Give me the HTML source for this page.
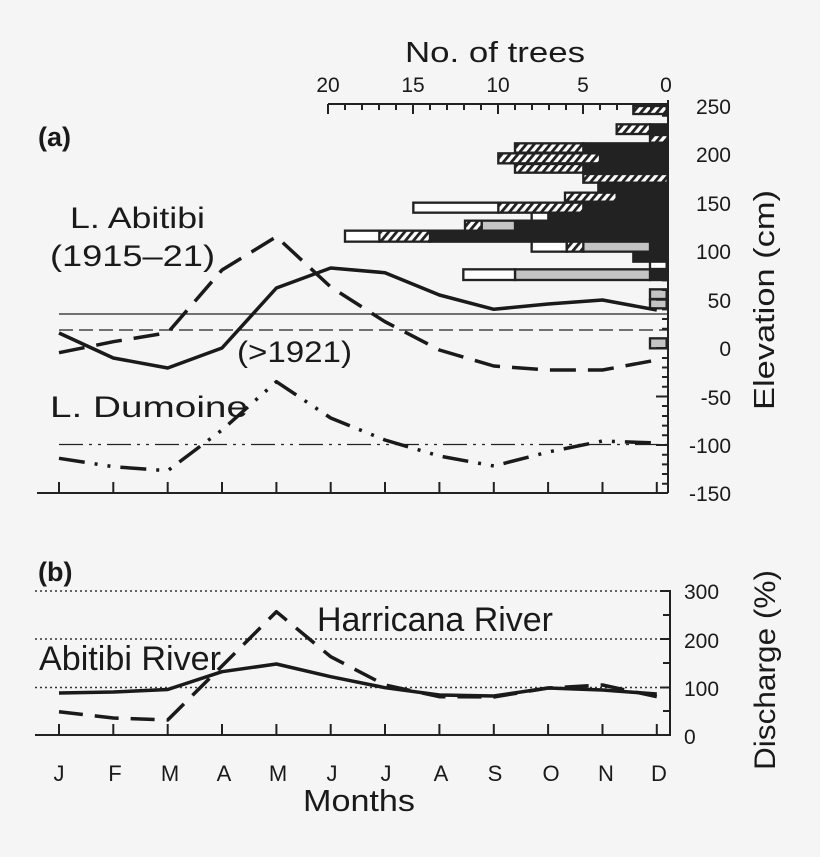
<!DOCTYPE html>
<html><head><meta charset="utf-8"><style>
html,body{margin:0;padding:0;background:#f5f5f5;}
svg{display:block;font-family:"Liberation Sans",Arial,sans-serif;}
</style></head><body>
<svg width="820" height="857" viewBox="0 0 820 857" xmlns="http://www.w3.org/2000/svg">
<defs>
<pattern id="h" patternUnits="userSpaceOnUse" width="24" height="24" patternTransform="skewX(-40)">
<rect width="24" height="24" fill="#fff"/><rect x="0" width="11" height="24" fill="#222"/>
</pattern>
</defs>
<rect width="820" height="857" fill="#f5f5f5"/>
<g transform="translate(330,90) scale(0.33333)" stroke="#222" stroke-width="7">
<rect x="910" y="48" width="100" height="24" fill="url(#h)"/>
<rect x="960" y="103" width="53" height="29" fill="#222"/>
<rect x="860" y="103" width="100" height="29" fill="url(#h)"/>
<rect x="960" y="135" width="53" height="23" fill="url(#h)"/>
<rect x="760" y="160" width="253" height="28" fill="#222"/>
<rect x="555" y="160" width="205" height="28" fill="url(#h)"/>
<rect x="810" y="190" width="203" height="30" fill="#222"/>
<rect x="505" y="190" width="305" height="30" fill="url(#h)"/>
<rect x="760" y="222" width="253" height="26" fill="#222"/>
<rect x="555" y="222" width="205" height="26" fill="url(#h)"/>
<rect x="760" y="252" width="253" height="26" fill="url(#h)"/>
<rect x="805" y="280" width="208" height="25" fill="#222"/>
<rect x="860" y="308" width="153" height="27" fill="#222"/>
<rect x="705" y="308" width="155" height="27" fill="url(#h)"/>
<rect x="760" y="338" width="253" height="30" fill="#222"/>
<rect x="505" y="338" width="255" height="30" fill="url(#h)"/>
<rect x="250" y="338" width="255" height="30" fill="#fff"/>
<rect x="655" y="368" width="358" height="24" fill="#222"/>
<rect x="605" y="368" width="50" height="24" fill="#fff"/>
<rect x="555" y="392" width="458" height="30" fill="#222"/>
<rect x="455" y="392" width="100" height="30" fill="#c4c4c4"/>
<rect x="405" y="392" width="50" height="30" fill="url(#h)"/>
<rect x="300" y="422" width="713" height="33" fill="#222"/>
<rect x="148" y="422" width="152" height="33" fill="url(#h)"/>
<rect x="45" y="422" width="103" height="33" fill="#fff"/>
<rect x="960" y="455" width="53" height="30" fill="#222"/>
<rect x="760" y="455" width="200" height="30" fill="#c4c4c4"/>
<rect x="710" y="455" width="50" height="30" fill="url(#h)"/>
<rect x="605" y="455" width="105" height="30" fill="#fff"/>
<rect x="910" y="485" width="103" height="30" fill="#222"/>
<rect x="960" y="515" width="50" height="22" fill="#fff"/>
<rect x="960" y="538" width="53" height="32" fill="#222"/>
<rect x="555" y="538" width="405" height="32" fill="#c4c4c4"/>
<rect x="400" y="538" width="155" height="32" fill="#fff"/>
<rect x="960" y="598" width="50" height="29" fill="#c4c4c4"/>
<rect x="960" y="628" width="50" height="27" fill="#c4c4c4"/>
<rect x="960" y="745" width="50" height="30" fill="#c4c4c4"/>
</g>
<g stroke="#222" stroke-width="2" fill="none">
<line x1="328" y1="104" x2="668" y2="104"/>
<path d="M328 104v10M345 104v6M362 104v6M379 104v6M396 104v6M413 104v10M430 104v6M447 104v6M464 104v6M481 104v6M498 104v10M515 104v6M532 104v6M549 104v6M566 104v6M583 104v10M600 104v6M617 104v6M634 104v6M651 104v6"/>
<line x1="668" y1="100" x2="668" y2="493"/>
<line x1="37" y1="493" x2="668" y2="493"/>
<path d="M59 493v-11M113.3 493v-11M167.7 493v-11M222 493v-11M276.4 493v-11M330.7 493v-11M385 493v-11M439.4 493v-11M493.8 493v-11M548.1 493v-11M602.5 493v-11M656.8 493v-11"/>
<path d="M668 106h-12M668 115.7h-6M668 125.4h-6M668 135h-6M668 144.8h-6M668 154.5h-12M668 164h-6M668 173.8h-6M668 183.5h-6M668 193.2h-6M668 203h-12M668 212.5h-6M668 222h-6M668 232h-6M668 241.5h-6M668 251.3h-12M668 261h-6M668 270.7h-6M668 280.4h-6M668 290h-6M668 299.7h-12M668 309.4h-6M668 319h-6M668 328.8h-6M668 338.5h-6M668 348h-12M668 358h-6M668 367.5h-6M668 377h-6M668 386.8h-6M668 396.5h-12M668 406h-6M668 416h-6M668 425.6h-6M668 435.3h-6M668 445h-12M668 454.7h-6M668 464.4h-6M668 474h-6M668 483.8h-6"/>
</g>
<line x1="59" y1="314" x2="668" y2="314" stroke="#222" stroke-width="1.2"/>
<line x1="59" y1="330" x2="668" y2="330" stroke="#222" stroke-width="1.2" stroke-dasharray="14,6"/>
<line x1="59" y1="444.5" x2="668" y2="444.5" stroke="#222" stroke-width="1.2" stroke-dasharray="24,6,3,6,3,6"/>
<g fill="none" stroke="#1a1a1a" stroke-width="3.5" stroke-linejoin="round">
<polyline points="59,333 113.3,358 167.7,368 222,348 276.4,288 330.7,268 385,272.7 439.4,295 493.8,309.3 548.1,304 602.5,300 656.8,310"/>
<polyline stroke-dasharray="26,12" points="59,352.7 113.3,341.7 167.7,332.7 222,270 276.4,236.7 330.7,287 385,321.7 439.4,350 493.8,366 548.1,370 602.5,370 656.8,360"/>
<polyline stroke-dasharray="26,10,3,10,3,10" points="59,458.3 113.3,466.7 167.7,470.7 222,430 276.4,381.7 330.7,418 385,440 439.4,456 493.8,466 548.1,452 602.5,441 656.8,443"/>
</g>
<g fill="#1a1a1a">
<text x="405" y="62" font-size="29" textLength="180" lengthAdjust="spacingAndGlyphs">No. of trees</text>
<g font-size="21" text-anchor="middle">
<text x="328" y="92">20</text><text x="413" y="92">15</text><text x="498" y="92">10</text><text x="583" y="92">5</text><text x="666" y="92">0</text>
</g>
<text x="38" y="146" font-weight="bold" font-size="27">(a)</text>
<text x="70" y="228" font-size="30" textLength="135" lengthAdjust="spacingAndGlyphs">L. Abitibi</text>
<text x="50" y="266" font-size="30" textLength="165" lengthAdjust="spacingAndGlyphs">(1915–21)</text>
<text x="237" y="362" font-size="30" textLength="115" lengthAdjust="spacingAndGlyphs">(&gt;1921)</text>
<text x="50" y="417" font-size="30" textLength="198" lengthAdjust="spacingAndGlyphs">L. Dumoine</text>
<g font-size="21" text-anchor="end">
<text x="731" y="114">250</text><text x="731" y="162">200</text><text x="731" y="211">150</text><text x="731" y="259">100</text><text x="731" y="308">50</text><text x="731" y="356">0</text><text x="731" y="405">-50</text><text x="731" y="453">-100</text><text x="731" y="501">-150</text>
</g>
<text transform="translate(774,300) rotate(-90)" text-anchor="middle" font-size="29" textLength="220" lengthAdjust="spacingAndGlyphs">Elevation (cm)</text>
</g>
<g stroke="#333" stroke-width="1.5" stroke-dasharray="2,3">
<line x1="35" y1="591" x2="668" y2="591"/><line x1="35" y1="639" x2="668" y2="639"/><line x1="35" y1="687.5" x2="668" y2="687.5"/>
</g>
<g stroke="#222" stroke-width="2" fill="none">
<line x1="35" y1="735" x2="670" y2="735"/>
<line x1="670" y1="590" x2="670" y2="736"/>
<path d="M670 591h-10M670 615h-7M670 639h-10M670 663h-7M670 687.5h-10M670 711h-7"/>
<path d="M59 735v-11M113.3 735v-11M167.7 735v-11M222 735v-11M276.4 735v-11M330.7 735v-11M385 735v-11M439.4 735v-11M493.8 735v-11M548.1 735v-11M602.5 735v-11M656.8 735v-11"/>
</g>
<g fill="none" stroke="#1a1a1a" stroke-width="3.5" stroke-linejoin="round">
<polyline points="59,693 113.3,692 167.7,689.5 222,671.7 276.4,664 330.7,676.7 385,687.7 439.4,695 493.8,696 548.1,688 602.5,690 656.8,694"/>
<polyline stroke-dasharray="24,12" points="59,711.7 113.3,718 167.7,720 222,666 276.4,611.7 330.7,656.7 385,685 439.4,696.7 493.8,697 548.1,688 602.5,685 656.8,696.7"/>
</g>
<g fill="#1a1a1a">
<text x="38" y="581" font-weight="bold" font-size="27">(b)</text>
<text x="317" y="631" font-size="34" textLength="236" lengthAdjust="spacingAndGlyphs">Harricana River</text>
<text x="39" y="670" font-size="34" textLength="182" lengthAdjust="spacingAndGlyphs">Abitibi River</text>
<g font-size="21">
<text x="684" y="599">300</text><text x="684" y="648">200</text><text x="684" y="696">100</text><text x="684" y="744">0</text>
</g>
<text transform="translate(775,670) rotate(-90)" text-anchor="middle" font-size="30" textLength="200" lengthAdjust="spacingAndGlyphs">Discharge (%)</text>
<g font-size="22" text-anchor="middle">
<text x="59" y="781">J</text><text x="115" y="781">F</text><text x="170" y="781">M</text><text x="224" y="781">A</text><text x="278" y="781">M</text><text x="332" y="781">J</text><text x="386" y="781">J</text><text x="441" y="781">A</text><text x="495" y="781">S</text><text x="551" y="781">O</text><text x="606" y="781">N</text><text x="659" y="781">D</text>
</g>
<text x="303" y="811" font-size="31" textLength="112" lengthAdjust="spacingAndGlyphs">Months</text>
</g>
</svg>
</body></html>
